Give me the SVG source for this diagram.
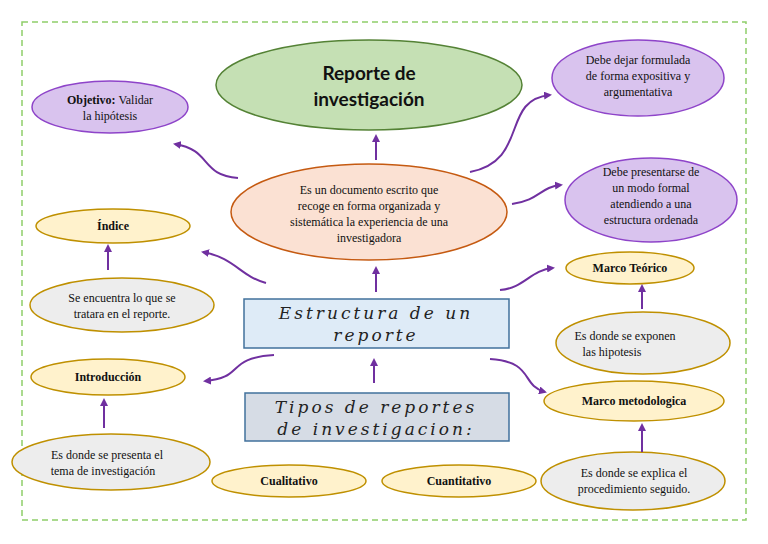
<svg xmlns="http://www.w3.org/2000/svg" width="768" height="544" viewBox="0 0 768 544">
<style>
text{font-family:"Liberation Serif",serif;font-size:12px;fill:#111;text-anchor:middle}
.b{font-weight:bold}
.pu{fill:#d9c3ee;stroke:#8e44c9;stroke-width:1.5}
.ye{fill:#fff2cc;stroke:#bf9000;stroke-width:1.5}
.gr{fill:#ededed;stroke:#bf9000;stroke-width:1.5}
.sc{font-family:"DejaVu Serif",serif;font-style:italic;font-size:17px;letter-spacing:3px;fill:#222}
.c{fill:none;stroke:#7030a0;stroke-width:2;marker-end:url(#a)}
</style>
<defs><marker id="a" markerWidth="8" markerHeight="8" refX="6" refY="4" orient="auto" markerUnits="userSpaceOnUse"><path d="M0,0L8,4L0,8z" fill="#7030a0"/></marker></defs>
<rect x="0" y="0" width="768" height="544" fill="#fff"/>
<rect x="22" y="22" width="724" height="498" fill="none" stroke="#8fce6a" stroke-width="1.5" stroke-dasharray="6,4"/>
<g id="title"><ellipse cx="369" cy="85" rx="153" ry="45" fill="#c5e0b4" stroke="#548235" stroke-width="1.5"/><text x="369" y="80" class="b" style="font-family:Lato,sans-serif;font-size:19px">Reporte de</text><text x="369" y="106" class="b" style="font-family:Lato,sans-serif;font-size:19px">investigación</text></g>
<g id="objetivo"><ellipse cx="110" cy="107" rx="78" ry="26" class="pu"/><text x="110" y="104"><tspan class="b">Objetivo:</tspan> Validar</text><text x="110" y="120">la hipótesis</text></g>
<g id="expositiva"><ellipse cx="638" cy="78" rx="86" ry="38" class="pu"/><text x="638" y="64">Debe dejar formulada</text><text x="638" y="80">de forma expositiva y</text><text x="638" y="96">argumentativa</text></g>
<g id="formal"><ellipse cx="651" cy="200" rx="86" ry="42" class="pu"/><text x="651" y="176">Debe presentarse de</text><text x="651" y="192">un modo formal</text><text x="651" y="208">atendiendo a una</text><text x="651" y="224">estructura ordenada</text></g>
<g id="definicion"><ellipse cx="369" cy="212" rx="138" ry="48" fill="#fbe1d3" stroke="#c55a11" stroke-width="1.5"/><text x="369" y="194">Es un documento escrito que</text><text x="369" y="210">recoge en forma organizada y</text><text x="369" y="226">sistemática la experiencia de una</text><text x="369" y="242">investigadora</text></g>
<g id="indice"><ellipse cx="113" cy="226" rx="77" ry="17" class="ye"/><text x="113" y="230" class="b">Índice</text></g>
<g id="encuentra"><ellipse cx="122" cy="305" rx="92" ry="27" class="gr"/><text x="122" y="302">Se encuentra lo que se</text><text x="122" y="318">tratara en el reporte.</text></g>
<g id="estructura"><rect x="244" y="299" width="265" height="49" fill="#deebf7" stroke="#41719c" stroke-width="1.5"/><text x="376" y="319" class="sc">Estructura de un</text><text x="376" y="341" class="sc">reporte</text></g>
<g id="teorico"><ellipse cx="630" cy="268" rx="64" ry="16" class="ye"/><text x="630" y="272" class="b">Marco Teórico</text></g>
<g id="exponen"><ellipse cx="643" cy="343" rx="87" ry="31" class="gr"/><text x="625" y="340">Es donde se exponen</text><text x="612" y="356">las hipotesis</text></g>
<g id="introduccion"><ellipse cx="108" cy="377" rx="77" ry="18" class="ye"/><text x="108" y="381" class="b">Introducción</text></g>
<g id="tipos"><rect x="245" y="393" width="264" height="48" fill="#d6dce5" stroke="#41719c" stroke-width="1.5"/><text x="376" y="413" class="sc">Tipos de reportes</text><text x="376" y="435" class="sc">de investigacion:</text></g>
<g id="metodologica"><ellipse cx="634" cy="401" rx="90" ry="20" class="ye"/><text x="634" y="405" class="b">Marco metodologica</text></g>
<g id="presenta"><ellipse cx="111" cy="462" rx="99" ry="28" class="gr"/><text x="107" y="459">Es donde se presenta el</text><text x="103" y="475">tema de investigación</text></g>
<g id="cualitativo"><ellipse cx="289" cy="481" rx="77" ry="16" class="ye"/><text x="289" y="485" class="b">Cualitativo</text></g>
<g id="cuantitativo"><ellipse cx="459" cy="481" rx="77" ry="16" class="ye"/><text x="459" y="485" class="b">Cuantitativo</text></g>
<g id="explica"><ellipse cx="633" cy="481" rx="92" ry="29" class="gr"/><text x="634" y="477">Es donde se explica el</text><text x="634" y="493">procedimiento seguido.</text></g>
<g id="connectors">
<path class="c" d="M376,160V136"/>
<path class="c" d="M238,178C200,175 212,150 175,144"/>
<path class="c" d="M470,172C530,160 500,100 550,95"/>
<path class="c" d="M512,204C540,200 540,187 561,185"/>
<path class="c" d="M376,292V268"/>
<path class="c" d="M266,283C240,276 235,258 203,252"/>
<path class="c" d="M500,290C525,288 530,270 553,268"/>
<path class="c" d="M108,270V246"/>
<path class="c" d="M642,309V286"/>
<path class="c" d="M274,355C225,358 245,378 205,381"/>
<path class="c" d="M374,383V360"/>
<path class="c" d="M490,359C535,362 520,385 545,392"/>
<path class="c" d="M104,428V400"/>
<path class="c" d="M642,452V425"/>
</g>
</svg>
